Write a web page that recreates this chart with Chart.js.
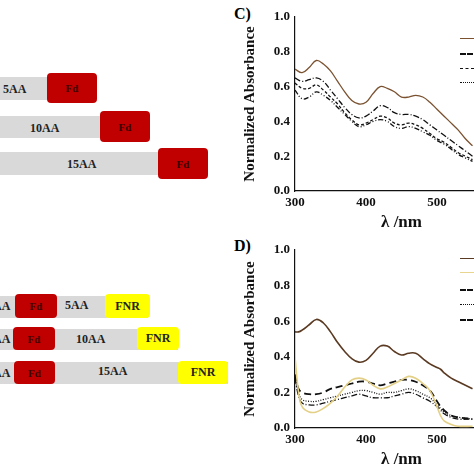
<!DOCTYPE html>
<html><head><meta charset="utf-8">
<script src="https://cdn.jsdelivr.net/npm/chart.js@4.4.0/dist/chart.umd.min.js"></script>
<style>
body{margin:0;width:474px;height:474px;overflow:hidden;position:relative;background:#fff;font-family:"Liberation Serif",serif;font-weight:bold}
.a{position:absolute}
.g{position:absolute;background:#d9d9d9}
.fd{position:absolute;background:#c00000;border-radius:4px;color:#3a0000;font-size:11px;display:flex;align-items:center;justify-content:center}
.fnr{position:absolute;background:#ffff00;border-radius:4px;color:#222;font-size:12px;display:flex;align-items:center;justify-content:center}
.t{position:absolute;font-size:12px;color:#222;line-height:1}
.cv{position:absolute}
.lg{position:absolute;left:460px;width:20px;height:0}
</style></head><body>
<div class="g" style="left:0;top:77px;width:50px;height:23px"></div>
<div class="fd" style="left:47px;top:73px;width:50px;height:30px">Fd</div>
<div class="t" style="left:3px;top:83px">5AA</div>
<div class="g" style="left:0;top:116px;width:102px;height:22px"></div>
<div class="fd" style="left:100px;top:111px;width:50px;height:31px">Fd</div>
<div class="t" style="left:30px;top:122px">10AA</div>
<div class="g" style="left:0;top:152px;width:160px;height:23px"></div>
<div class="fd" style="left:158px;top:148px;width:50px;height:31px">Fd</div>
<div class="t" style="left:67px;top:158px">15AA</div>

<div class="g" style="left:0;top:296px;width:148px;height:22px"></div>
<div class="fd" style="left:15px;top:294px;width:42px;height:24px">Fd</div>
<div class="t" style="left:-7px;top:300px">AA</div>
<div class="t" style="left:65px;top:299px">5AA</div>
<div class="fnr" style="left:105px;top:294px;width:45px;height:24px">FNR</div>
<div class="g" style="left:0;top:329px;width:178px;height:21px"></div>
<div class="fd" style="left:13px;top:327px;width:42px;height:23px">Fd</div>
<div class="t" style="left:-7px;top:333px">AA</div>
<div class="t" style="left:76px;top:333px">10AA</div>
<div class="fnr" style="left:137px;top:327px;width:42px;height:23px">FNR</div>
<div class="g" style="left:0;top:362px;width:228px;height:22px"></div>
<div class="fd" style="left:14px;top:361px;width:41px;height:23px">Fd</div>
<div class="t" style="left:-7px;top:367px">AA</div>
<div class="t" style="left:98px;top:365px">15AA</div>
<div class="fnr" style="left:178px;top:361px;width:50px;height:23px">FNR</div>

<div class="a" style="left:234px;top:5px;font-size:16px">C)</div>
<div class="a" style="left:234px;top:237px;font-size:16px">D)</div>

<div class="cv" style="left:237px;top:0;width:290px;height:237px"><canvas id="c1"></canvas></div>
<div class="cv" style="left:237px;top:237px;width:290px;height:237px"><canvas id="c2"></canvas></div>

<div class="lg" style="top:38px;border-top:1.5px solid #7a5230"></div>
<div class="lg" style="top:53px;border-top:2px dashed #111"></div>
<div class="lg" style="top:68px;border-top:1.5px dashed #111;width:14px"></div>
<div class="lg" style="top:82px;border-top:1.5px dotted #111"></div>
<div class="lg" style="top:258px;border-top:1.5px solid #5a3a22"></div>
<div class="lg" style="top:272px;border-top:1.5px solid #e8d590"></div>
<div class="lg" style="top:289px;border-top:2px dashed #111"></div>
<div class="lg" style="top:304px;border-top:1.5px dotted #111"></div>
<div class="lg" style="top:319px;border-top:2px dashed #111"></div>

<script>
const wlC = [300,310,320,330,340,350,360,370,380,390,400,410,420,430,440,450,460,470,480,490,500,510,520,530,540,550];
const cBrown = [0.70,0.68,0.71,0.75,0.73,0.69,0.63,0.57,0.52,0.50,0.51,0.56,0.60,0.59,0.57,0.54,0.54,0.55,0.54,0.51,0.47,0.43,0.39,0.35,0.30,0.26];
const cDashDot = [0.65,0.63,0.64,0.65,0.63,0.58,0.53,0.48,0.44,0.42,0.43,0.46,0.49,0.48,0.45,0.44,0.44,0.43,0.41,0.38,0.35,0.32,0.29,0.26,0.23,0.20];
const cDash = [0.62,0.59,0.59,0.61,0.58,0.54,0.50,0.45,0.41,0.38,0.39,0.41,0.43,0.42,0.39,0.38,0.39,0.38,0.36,0.33,0.30,0.28,0.25,0.22,0.20,0.18];
const cDashDotDot = [0.58,0.53,0.54,0.57,0.55,0.52,0.48,0.44,0.40,0.37,0.38,0.40,0.41,0.40,0.37,0.36,0.37,0.36,0.34,0.32,0.29,0.27,0.24,0.21,0.19,0.17];

const wlD = [300,305,310,320,330,340,350,360,370,380,390,400,410,420,430,440,450,460,470,480,490,500,505,510,520,530,550];
const dBrown = [0.54,0.54,0.55,0.58,0.61,0.59,0.54,0.48,0.43,0.39,0.37,0.38,0.42,0.46,0.46,0.43,0.41,0.42,0.42,0.39,0.36,0.34,0.33,0.31,0.28,0.26,0.22];
const dGold = [0.40,0.20,0.12,0.09,0.09,0.11,0.14,0.18,0.23,0.27,0.28,0.27,0.24,0.22,0.23,0.25,0.27,0.29,0.28,0.25,0.21,0.12,0.07,0.04,0.02,0.01,0.01];
const dLongDash = [0.30,0.22,0.20,0.19,0.19,0.20,0.22,0.23,0.24,0.25,0.26,0.26,0.25,0.24,0.25,0.26,0.27,0.27,0.26,0.24,0.21,0.15,0.12,0.10,0.07,0.06,0.05];
const dDotted = [0.30,0.20,0.16,0.15,0.15,0.16,0.17,0.18,0.19,0.20,0.21,0.21,0.20,0.19,0.20,0.20,0.21,0.22,0.21,0.19,0.17,0.13,0.11,0.09,0.07,0.06,0.05];
const dDashDot = [0.28,0.18,0.14,0.13,0.13,0.14,0.15,0.16,0.17,0.18,0.19,0.18,0.17,0.17,0.17,0.18,0.19,0.20,0.19,0.17,0.15,0.12,0.10,0.08,0.06,0.05,0.05];

const yTicks = [0,0.2,0.4,0.6,0.8,1.0];
const xTicks = [300,400,500,600];

function ds(wl, vals, color, dash, w){
  return {data: wl.map((x,i)=>({x, y: vals[i]})), borderColor: color, borderDash: dash, borderWidth: w||1.3, pointRadius: 0, tension: 0.4, fill:false};
}
const F = {family:'"Liberation Serif", serif', weight:'bold', size:13};
function opts(topPad){
  return {
    responsive:false, animation:false, maintainAspectRatio:false,
    layout:{padding:{top:topPad, right:19, left:0, bottom:0}},
    plugins:{legend:{display:false}, tooltip:{enabled:false}},
    scales:{
      x:{type:'linear', min:300, max:600,
        ticks:{stepSize:50, color:'#111', font:F, padding:1, callback:v=>xTicks.includes(v)?v:''},
        grid:{display:false, drawTicks:true, tickLength:3, tickColor:'#111'},
        border:{color:'#111', width:1.2},
        title:{display:true, text:'λ /nm', color:'#111', font:{family:'"Liberation Serif", serif', weight:'bold', size:17}, padding:{top:1}}},
      y:{min:0, max:1,
        afterFit:s=>{s.width=58;},
        ticks:{stepSize:0.1, color:'#111', font:F, padding:2, callback:v=>{const r=Math.round(v*10)/10; return yTicks.some(t=>Math.abs(t-r)<1e-6)&&Math.abs(v-r)<1e-6 && Math.round(r*10)%2===0 ? r.toFixed(1):'';}},
        grid:{display:false, drawTicks:true, tickLength:3, tickColor:'#111'},
        border:{color:'#111', width:1.2},
        title:{display:true, text:'Normalized Absorbance', color:'#111', font:{family:'"Liberation Serif", serif', weight:'bold', size:15}, padding:{bottom:1}}}
    }
  };
}
function mk(id, datasets, topPad){
  const cv=document.getElementById(id); cv.width=290; cv.height=237;
  new Chart(cv,{type:'line', data:{datasets}, options:opts(topPad)});
}
mk('c1',[
  ds(wlC,cBrown,'#7a5230',[]),
  ds(wlC,cDashDot,'#111',[6,2,1,2]),
  ds(wlC,cDash,'#111',[3,2]),
  ds(wlC,cDashDotDot,'#111',[5,2,1,2,1,2])
],17);
mk('c2',[
  ds(wlD,dBrown,'#5a3a22',[],1.6),
  ds(wlD,dGold,'#e3cf85',[],1.6),
  ds(wlD,dDashDot,'#111',[6,2,1,2]),
  ds(wlD,dDotted,'#111',[1,1.5]),
  ds(wlD,dLongDash,'#111',[7,4],1.8)
],13);
</script>
</body></html>
